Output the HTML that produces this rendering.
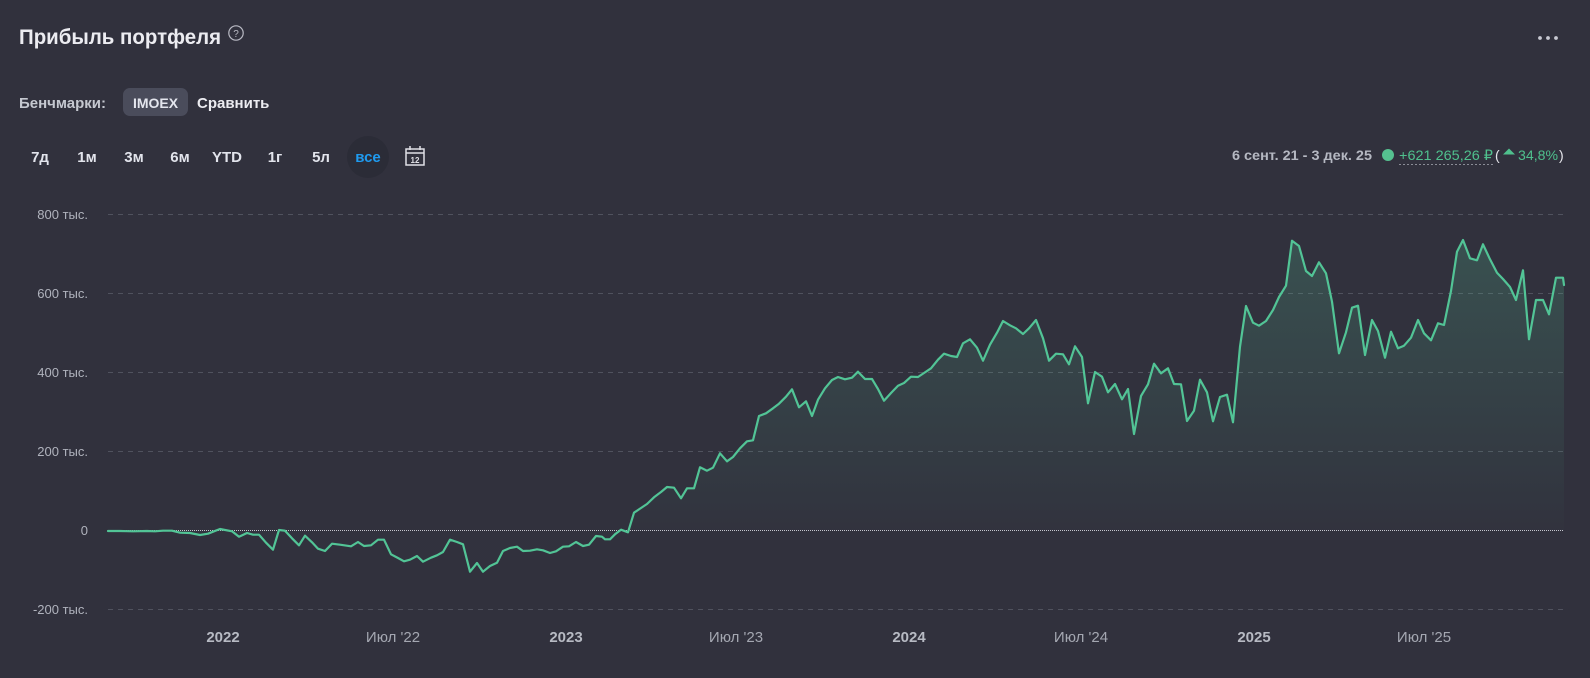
<!DOCTYPE html>
<html>
<head>
<meta charset="utf-8">
<style>
  html,body{margin:0;padding:0;}
  body{width:1590px;height:678px;overflow:hidden;background:#31313d;font-family:"Liberation Sans","DejaVu Sans",sans-serif;}
  svg{display:block;}
</style>
</head>
<body>
<svg width="1590" height="678" viewBox="0 0 1590 678" xmlns="http://www.w3.org/2000/svg" font-family="'Liberation Sans','DejaVu Sans',sans-serif">
  <defs>
    <linearGradient id="g" gradientUnits="userSpaceOnUse" x1="0" y1="235" x2="0" y2="531">
      <stop offset="0" stop-color="#56c596" stop-opacity="0.22"/>
      <stop offset="1" stop-color="#56c596" stop-opacity="0.01"/>
    </linearGradient>
  </defs>
  <rect x="0" y="0" width="1590" height="678" fill="#31313d"/>

  <!-- Header -->
  <text x="19" y="44" font-size="21" font-weight="700" fill="#ececf1" textLength="202" lengthAdjust="spacingAndGlyphs">Прибыль портфеля</text>
  <circle cx="236" cy="33" r="7.2" fill="none" stroke="#b9bac4" stroke-width="1.2"/>
  <text x="236" y="37" font-size="10" text-anchor="middle" fill="#b9bac4">?</text>

  <circle cx="1540" cy="38" r="1.9" fill="#c8c9d2"/>
  <circle cx="1548" cy="38" r="1.9" fill="#c8c9d2"/>
  <circle cx="1556" cy="38" r="1.9" fill="#c8c9d2"/>

  <text x="19" y="108" font-size="15" font-weight="700" fill="#c5c8d0">Бенчмарки:</text>
  <rect x="123" y="88" width="65" height="28" rx="7" fill="#4a4c5b"/>
  <text x="155.5" y="108" font-size="14" font-weight="700" fill="#e4e6ee" text-anchor="middle">IMOEX</text>
  <text x="197" y="108" font-size="15" font-weight="700" fill="#ececf1">Сравнить</text>

  <!-- Period buttons -->
  <g font-size="15" font-weight="700" fill="#e2e4ec" text-anchor="middle">
    <text x="40" y="162">7д</text>
    <text x="87" y="162">1м</text>
    <text x="134" y="162">3м</text>
    <text x="180" y="162">6м</text>
    <text x="227" y="162">YTD</text>
    <text x="275" y="162">1г</text>
    <text x="321" y="162">5л</text>
  </g>
  <circle cx="368" cy="157" r="21" fill="#2b2c37"/>
  <text x="368" y="162" font-size="15" font-weight="700" fill="#1f9bf0" text-anchor="middle">все</text>
  <!-- calendar icon -->
  <g stroke="#e0e0e6" fill="none" stroke-width="1.5">
    <rect x="406" y="149" width="18" height="16"/>
    <line x1="406" y1="153" x2="424" y2="153"/>
    <line x1="410" y1="146" x2="410" y2="150"/>
    <line x1="420" y1="146" x2="420" y2="150"/>
  </g>
  <text x="415" y="163" font-size="8" font-weight="700" fill="#e0e0e6" text-anchor="middle">12</text>

  <!-- Summary -->
  <text x="1232" y="160" font-size="14" font-weight="700" fill="#b5b8c2" textLength="140" lengthAdjust="spacingAndGlyphs">6 сент. 21 - 3 дек. 25</text>
  <circle cx="1388" cy="155" r="6" fill="#55c08f"/>
  <text x="1399" y="160" font-size="14" fill="#4fc08d" textLength="94" lengthAdjust="spacingAndGlyphs">+621 265,26 ₽</text>
  <line x1="1399" y1="164.5" x2="1493" y2="164.5" stroke="#8a8c96" stroke-width="1" stroke-dasharray="2,2"/>
  <text x="1495" y="160" font-size="14" fill="#e6e6ec">(</text>
  <polygon points="1503,154.5 1509,148.5 1515,154.5" fill="#4fc08d"/>
  <text x="1518" y="160" font-size="14" fill="#4fc08d" textLength="40" lengthAdjust="spacingAndGlyphs">34,8%</text>
  <text x="1559" y="160" font-size="14" fill="#e6e6ec">)</text>

  <!-- Grid -->
  <g stroke="#50525e" stroke-width="1" stroke-dasharray="5,5">
    <line x1="108" y1="214.5" x2="1564" y2="214.5"/>
    <line x1="108" y1="293.5" x2="1564" y2="293.5"/>
    <line x1="108" y1="372.5" x2="1564" y2="372.5"/>
    <line x1="108" y1="451.5" x2="1564" y2="451.5"/>
    <line x1="108" y1="609.5" x2="1564" y2="609.5"/>
  </g>

  <!-- Y labels -->
  <g font-size="13" fill="#b0b3bd" text-anchor="end">
    <text x="88" y="219">800 тыс.</text>
    <text x="88" y="298">600 тыс.</text>
    <text x="88" y="377">400 тыс.</text>
    <text x="88" y="456">200 тыс.</text>
    <text x="88" y="535">0</text>
    <text x="88" y="614">-200 тыс.</text>
  </g>

  <!-- X labels -->
  <g font-size="15" text-anchor="middle">
    <text x="223" y="642" font-weight="700" fill="#b7bac3">2022</text>
    <text x="393" y="642" fill="#a4a7b1">Июл '22</text>
    <text x="566" y="642" font-weight="700" fill="#b7bac3">2023</text>
    <text x="736" y="642" fill="#a4a7b1">Июл '23</text>
    <text x="909" y="642" font-weight="700" fill="#b7bac3">2024</text>
    <text x="1081" y="642" fill="#a4a7b1">Июл '24</text>
    <text x="1254" y="642" font-weight="700" fill="#b7bac3">2025</text>
    <text x="1424" y="642" fill="#a4a7b1">Июл '25</text>
  </g>

  <!-- Area fill -->
  <polygon fill="url(#g)" points="108,531 120,531 133,531.3 147,531 155,531.3 163,530.7 172,530.7 180,532.7 190,533 200,535 208,533.7 220,529 232,531.3 239,536.7 247,533 253,534.7 259,534.7 266,542.7 273,549.7 279,530 285,530.7 292,538.3 299,545.3 305,535.7 312,542.3 318,548.7 325,551 332,543.7 340,544.7 351,546.3 358,542 364,546 371,545.3 378,539.7 384,539.7 391,554.3 398,558 404,561.3 410,559.7 417,556 423,561.7 431,557.7 437,555.3 443,552 450,539.7 457,542 463,544.3 470,571.7 477,563 483,571.7 490,566 497,562.7 503,551 510,548 517,546.7 523,551 530,550.7 537,549.3 543,550.3 550,553 556,551.3 563,546.7 569,546.3 576,542 583,546 589,544.7 596,536 602,536.7 605,539.3 610,539.3 615,534.3 621,529.7 628,532.3 634,512.7 641,508 647,504 654,497.3 661,492 667,487 674,487.7 681,498.3 687,488.3 694,488.3 700,467.3 707,470.7 713,467.7 720,453.3 727,461.3 733,457 740,448.3 747,441.3 753,440.3 759,416 766,413.3 773,408.3 779,403.7 786,396.7 792,389.3 799,407.3 806,401.3 812,416 818,399.7 825,388.3 832,380 838,377 845,379.3 852,377.7 858,371.7 865,379 872,379 878,389 884,400.7 891,393 898,385.7 904,383 911,376.7 918,377 924,373 931,368.3 938,359.7 944,353.7 951,356 957,357 963,343.3 970,339.3 977,347.7 983,360.7 990,344.7 997,332.7 1003,321 1010,325.3 1016,328.3 1023,334 1029,328.3 1036,320 1043,338.3 1049,360.7 1056,353.7 1063,354.3 1069,364.3 1075,346.3 1082,357 1088,403.3 1095,372 1102,376.7 1108,392.3 1115,384 1122,399.3 1128,389 1134,434 1141,396 1148,384.3 1154,363.7 1161,373.3 1168,368.3 1174,384 1181,384.3 1187,421 1194,410.7 1200,379.7 1207,392.3 1213,421.3 1220,397 1227,394.7 1233,422.3 1240,346.7 1246,306 1253,322.7 1259,325.7 1266,321 1273,310 1279,297 1286,285.7 1292,240.7 1299,246 1306,271 1312,276 1319,262.3 1326,273.3 1332,301.7 1339,353.3 1346,332.3 1352,307.7 1358,305.7 1365,355 1372,320 1378,331 1385,357.7 1391,331.7 1398,348.3 1404,345.7 1411,337.7 1418,320 1424,333.3 1431,340.3 1438,323.3 1444,325 1451,291 1457,251.7 1463,240 1470,258.3 1477,260.3 1483,244.3 1490,259.3 1497,272.7 1503,279 1510,287 1516,300 1523,270.3 1529,339.3 1536,300 1543,300 1549,314.3 1556,277.7 1563,277.7 1564,285 1564,531"/>

  <!-- zero line -->
  <line x1="108" y1="530.5" x2="1564" y2="530.5" stroke="#c4c5cd" stroke-width="1" stroke-dasharray="1,1"/>

  <!-- Series line -->
  <polyline fill="none" stroke="#52c496" stroke-width="2.2" stroke-linejoin="round" stroke-linecap="round" points="108,531 120,531 133,531.3 147,531 155,531.3 163,530.7 172,530.7 180,532.7 190,533 200,535 208,533.7 220,529 232,531.3 239,536.7 247,533 253,534.7 259,534.7 266,542.7 273,549.7 279,530 285,530.7 292,538.3 299,545.3 305,535.7 312,542.3 318,548.7 325,551 332,543.7 340,544.7 351,546.3 358,542 364,546 371,545.3 378,539.7 384,539.7 391,554.3 398,558 404,561.3 410,559.7 417,556 423,561.7 431,557.7 437,555.3 443,552 450,539.7 457,542 463,544.3 470,571.7 477,563 483,571.7 490,566 497,562.7 503,551 510,548 517,546.7 523,551 530,550.7 537,549.3 543,550.3 550,553 556,551.3 563,546.7 569,546.3 576,542 583,546 589,544.7 596,536 602,536.7 605,539.3 610,539.3 615,534.3 621,529.7 628,532.3 634,512.7 641,508 647,504 654,497.3 661,492 667,487 674,487.7 681,498.3 687,488.3 694,488.3 700,467.3 707,470.7 713,467.7 720,453.3 727,461.3 733,457 740,448.3 747,441.3 753,440.3 759,416 766,413.3 773,408.3 779,403.7 786,396.7 792,389.3 799,407.3 806,401.3 812,416 818,399.7 825,388.3 832,380 838,377 845,379.3 852,377.7 858,371.7 865,379 872,379 878,389 884,400.7 891,393 898,385.7 904,383 911,376.7 918,377 924,373 931,368.3 938,359.7 944,353.7 951,356 957,357 963,343.3 970,339.3 977,347.7 983,360.7 990,344.7 997,332.7 1003,321 1010,325.3 1016,328.3 1023,334 1029,328.3 1036,320 1043,338.3 1049,360.7 1056,353.7 1063,354.3 1069,364.3 1075,346.3 1082,357 1088,403.3 1095,372 1102,376.7 1108,392.3 1115,384 1122,399.3 1128,389 1134,434 1141,396 1148,384.3 1154,363.7 1161,373.3 1168,368.3 1174,384 1181,384.3 1187,421 1194,410.7 1200,379.7 1207,392.3 1213,421.3 1220,397 1227,394.7 1233,422.3 1240,346.7 1246,306 1253,322.7 1259,325.7 1266,321 1273,310 1279,297 1286,285.7 1292,240.7 1299,246 1306,271 1312,276 1319,262.3 1326,273.3 1332,301.7 1339,353.3 1346,332.3 1352,307.7 1358,305.7 1365,355 1372,320 1378,331 1385,357.7 1391,331.7 1398,348.3 1404,345.7 1411,337.7 1418,320 1424,333.3 1431,340.3 1438,323.3 1444,325 1451,291 1457,251.7 1463,240 1470,258.3 1477,260.3 1483,244.3 1490,259.3 1497,272.7 1503,279 1510,287 1516,300 1523,270.3 1529,339.3 1536,300 1543,300 1549,314.3 1556,277.7 1563,277.7 1564,285"/>
</svg>
</body>
</html>
